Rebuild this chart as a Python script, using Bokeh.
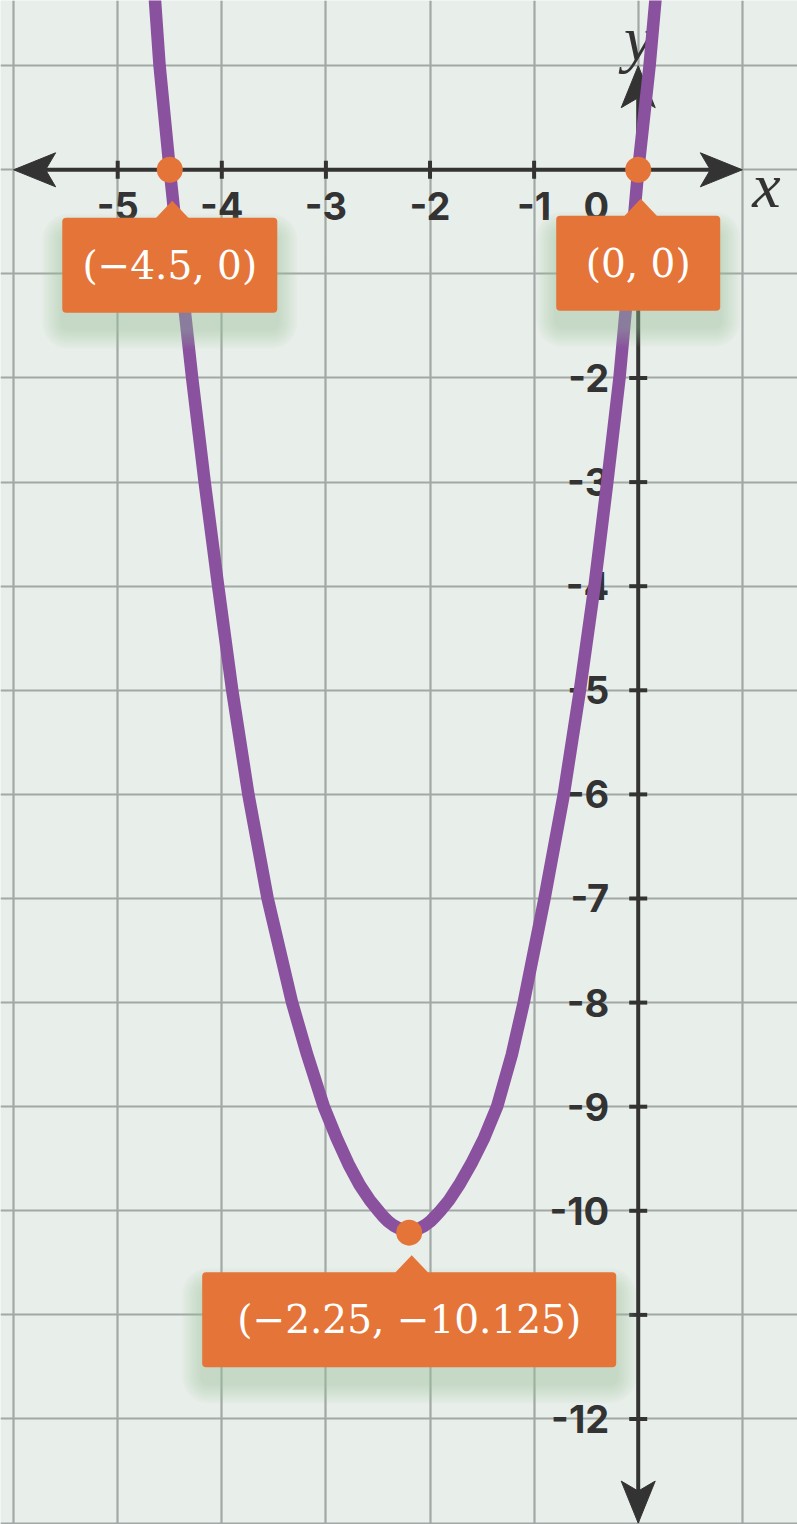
from bokeh.plotting import figure
from bokeh.models import Range1d, Grid, FixedTicker
from bokeh.embed import file_html
from bokeh.resources import INLINE
from bokeh.core.properties import value

# ---------------- data ----------------
grid_x = [-6, -5, -4, -3, -2, -1, 0, 1]
grid_y = [1, 0, -1, -2, -3, -4, -5, -6, -7, -8, -9, -10, -11, -12, -13]

x_ticks = [-5, -4, -3, -2, -1]
x_tick_labels = ["-5", "-4", "-3", "-2", "-1"]
origin_tick_label = ["0"]
y_ticks = [-1, -2, -3, -4, -5, -6, -7, -8, -9, -10, -11, -12]
y_tick_labels = ["-1", "-2", "-3", "-4", "-5", "-6", "-7", "-8", "-9", "-10", "-11", "-12"]

axis_x_extent = [-6, 1]
axis_y_extent = [-13, 1]
axis_names = ["x", "y"]

# purple curve, points (top-left -> vertex -> top-right)
curve_x = [-4.642, -4.598, -4.500, -4.395, -4.285, -4.165, -4.035, -3.900, -3.745,
           -3.560, -3.325, -3.180, -3.020, -2.898, -2.784, -2.677, -2.577, -2.496,
           -2.454, -2.404, -2.352, -2.296, -2.200,
           -2.104, -2.048, -1.996, -1.946, -1.900, -1.818, -1.720, -1.605, -1.480,
           -1.356, -1.214, -1.100, -0.900, -0.715, -0.560, -0.420, -0.297, -0.180,
           -0.088, 0.000, 0.109, 0.165]
curve_y = [1.626, 1.0, 0.0, -1.0, -2.0, -3.0, -4.0, -5.0, -6.0,
           -7.0, -8.0, -8.5, -9.0, -9.3, -9.55, -9.75, -9.9, -10.0,
           -10.05, -10.1, -10.14, -10.17, -10.19,
           -10.17, -10.14, -10.1, -10.05, -10.0, -9.9, -9.75, -9.55, -9.3,
           -9.0, -8.5, -8.0, -7.0, -6.0, -5.0, -4.0, -3.0, -2.0,
           -1.0, 0.0, 1.0, 1.626]

# marked points and their labels
point_x = [-4.5, 0.0, -2.2]
point_y = [0.0, 0.0, -10.21]
point_labels = ["(\u22124.5, 0)", "(0, 0)", "(\u22122.25, \u221210.125)"]

# ---------------- layout / style ----------------
W, H = 797, 1524
S = 104.1                      # pixels per unit (both axes)
X_START = -6.126
Y_END = 1.6263


def u(px):
    return px / S


BG = "#e8eee9"
GRID = "#a2a8a5"
AXIS = "#333333"
PURPLE = "#89519e"
ORANGE = "#e57438"

p = figure(width=W, height=H, output_backend="svg", toolbar_location=None,
           x_range=Range1d(X_START, X_START + W / S),
           y_range=Range1d(Y_END - H / S, Y_END),
           x_axis_location=None, y_axis_location=None, min_border=0)
p.background_fill_color = BG
p.border_fill_color = BG
p.outline_line_color = None

# grid
p.add_layout(Grid(dimension=0, ticker=FixedTicker(ticks=grid_x),
                  grid_line_color=GRID, grid_line_width=2.2))
p.add_layout(Grid(dimension=1, ticker=FixedTicker(ticks=grid_y),
                  grid_line_color=GRID, grid_line_width=2.2))

# axis lines (stop at arrow notches)
NOTCH, LEN, HW = 32, 42, 17
p.segment(x0=[axis_x_extent[0] + u(NOTCH), 0], y0=[0, axis_y_extent[0] + u(NOTCH)],
          x1=[axis_x_extent[1] - u(NOTCH), 0], y1=[0, axis_y_extent[1] - u(NOTCH)],
          line_color=AXIS, line_width=4)


def head(tx, ty, dx, dy):
    qx, qy = -dy, dx
    pts = [(0, 0), (-LEN, HW), (-NOTCH, 0), (-LEN, -HW)]
    return ([tx + u(a * dx + b * qx) for a, b in pts],
            [ty + u(a * dy + b * qy) for a, b in pts])


heads = [head(axis_x_extent[1], 0, 1, 0), head(axis_x_extent[0], 0, -1, 0),
         head(0, axis_y_extent[1], 0, 1), head(0, axis_y_extent[0], 0, -1)]
p.patches(xs=[h[0] for h in heads], ys=[h[1] for h in heads],
          fill_color=AXIS, line_color=AXIS, line_width=1, line_join="round")

# tick marks
TK = 9
p.segment(x0=x_ticks, y0=[-u(TK)] * len(x_ticks), x1=x_ticks, y1=[u(TK)] * len(x_ticks),
          line_color=AXIS, line_width=4)
p.segment(x0=[-u(TK)] * len(y_ticks), y0=y_ticks, x1=[u(TK)] * len(y_ticks), y1=y_ticks,
          line_color=AXIS, line_width=4)

# tick labels
TICK_FONT = value("Inter")
TICK_SIZE = "38px"
p.text(x=x_ticks, y=[0] * len(x_ticks), text=x_tick_labels, y_offset=36,
       text_align="center", text_baseline="middle", text_color=AXIS,
       text_font=TICK_FONT, text_font_style="bold", text_font_size=TICK_SIZE)
p.text(x=[0], y=[0], text=origin_tick_label, x_offset=-42, y_offset=36,
       text_align="center", text_baseline="middle", text_color=AXIS,
       text_font=TICK_FONT, text_font_style="bold", text_font_size=TICK_SIZE)
p.text(x=[0] * len(y_ticks), y=y_ticks, text=y_tick_labels, x_offset=-29,
       text_align="right", text_baseline="middle", text_color=AXIS,
       text_font=TICK_FONT, text_font_style="bold", text_font_size=TICK_SIZE)

# axis names
p.text(x=[axis_x_extent[1]], y=[0], text=[axis_names[0]], x_offset=10, y_offset=16,
       text_align="left", text_baseline="alphabetic", text_color=AXIS,
       text_font=value("Liberation Serif"), text_font_style="italic", text_font_size="64px")
p.text(x=[0], y=[axis_y_extent[1]], text=[axis_names[1]], x_offset=0, y_offset=-27,
       text_align="center", text_baseline="alphabetic", text_color=AXIS,
       text_font=value("Liberation Serif"), text_font_style="italic", text_font_size="64px")

# curve
p.line(curve_x, curve_y, line_color=PURPLE, line_width=12.5, line_join="round", line_cap="round")

# label boxes
box_w_px = [215, 164, 414]
box_h_px = 95
box_gap_px = [48, 46, 39.5]
PTR_DX = 2.5

box_cx = list(point_x)
box_top = [py - u(g) for py, g in zip(point_y, box_gap_px)]
box_cy = [t - u(box_h_px / 2) for t in box_top]

# soft greenish shadow (mostly below the boxes)
for i in range(1, 11):
    spread = 4 * i
    p.rect(x=box_cx, y=[c - u(16) for c in box_cy],
           width=[w + spread for w in box_w_px], height=box_h_px + spread,
           width_units="screen", height_units="screen",
           fill_color="#9cc49f", fill_alpha=0.05, line_color=None,
           border_radius=int(6 + spread // 2))

p.rect(x=box_cx, y=box_cy, width=box_w_px, height=box_h_px,
       width_units="screen", height_units="screen",
       fill_color=ORANGE, line_color=None, border_radius=4)

ptr_xs = [[cx + u(PTR_DX - 17), cx + u(PTR_DX), cx + u(PTR_DX + 17)] for cx in box_cx]
ptr_ys = [[t - u(1), t + u(17), t - u(1)] for t in box_top]
p.patches(xs=ptr_xs, ys=ptr_ys, fill_color=ORANGE, line_color=None)

p.text(x=box_cx, y=box_cy, text=point_labels, text_align="center", text_baseline="middle",
       text_color="white", text_font=value("DejaVu Serif"), text_font_size="39px")

# points
p.scatter(point_x, point_y, size=26, fill_color=ORANGE, line_color=None)

open("out.html", "w").write(file_html(p, INLINE))
